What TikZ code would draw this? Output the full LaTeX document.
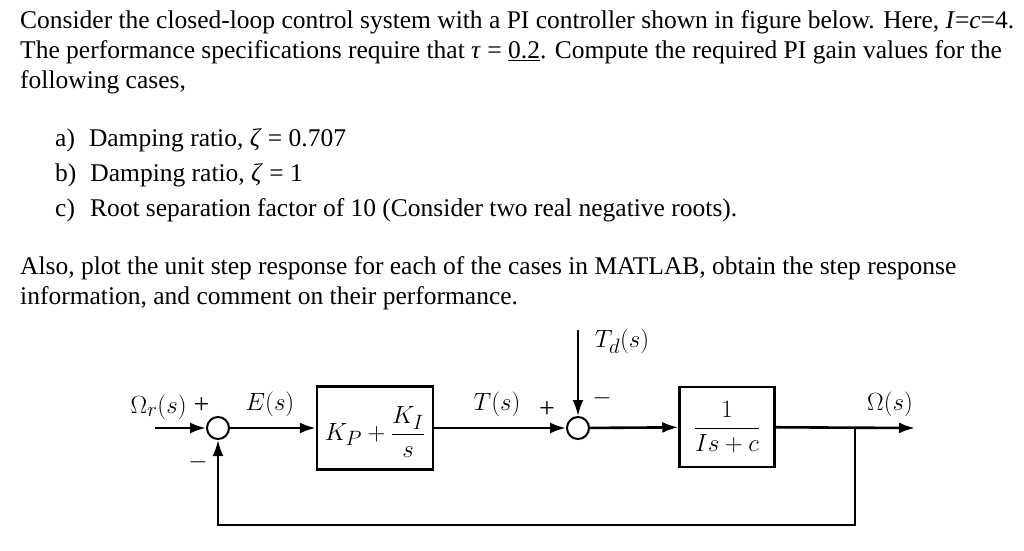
\documentclass[tikz,border=0pt]{standalone}
\usepackage{fontspec}
\usetikzlibrary{arrows.meta}
\setmainfont{Liberation Serif}
\begin{document}
\begin{tikzpicture}[x=1pt,y=-1pt,
  txt/.style={anchor=base west,inner sep=0,font=\fontsize{25.5}{30}\selectfont},
  lbl/.style={inner sep=0,font=\fontsize{28}{30}\selectfont},
  sumc/.style={circle,draw,line width=2pt,minimum size=22pt,inner sep=0},
  blk/.style={draw,line width=2.5pt,inner sep=0},
  ar/.style={line width=2.6pt,-{Latex[length=16pt,width=11pt]}}]
\useasboundingbox (0,0) rectangle (1024,550);
\node[txt] (l1) at (20,28) {Consider the closed-loop control system with a PI controller shown in figure below. Here, \textit{I}=\textit{c}=4.};
\node[txt] (l2) at (20,58) {The performance specifications require that \textit{τ} = \underline{0.2}. Compute the required PI gain values for the};
\node[txt] (l3) at (20,88) {following cases,};
\node[txt] (a) at (55,146) {a)\hspace{14pt}Damping ratio, \textit{ζ} = 0.707};
\node[txt] (b) at (55,181) {b)\hspace{14pt}Damping ratio, \textit{ζ} = 1};
\node[txt] (c) at (55,216) {c)\hspace{15pt}Root separation factor of 10 (Consider two real negative roots).};
\node[txt] (l4) at (20,274) {Also, plot the unit step response for each of the cases in MATLAB, obtain the step response};
\node[txt] (l5) at (20,304) {information, and comment on their performance.};
% diagram
\node[sumc] (s1) at (218,428) {};
\node[sumc] (s2) at (578,428) {};
\node[blk,minimum width=116pt,minimum height=83pt] (g1) at (375,428) {};
\node[lbl] at (375,432) {$\displaystyle K_P+\frac{K_I}{s}$};
\node[blk,minimum width=95pt,minimum height=80pt] (g2) at (727,427) {};
\node[lbl] at (727,427) {$\displaystyle\frac{1}{Is+c}$};
\coordinate (in) at (155,428);
\coordinate (out) at (915,428);
\coordinate (br) at (855,428);
\coordinate (td) at (578,330);
\draw[ar] (in) -- (s1);
\draw[ar] (s1) -- (g1);
\draw[ar] (g1) -- (s2);
\draw[ar] (s2) -- (g2);
\draw[ar] (g2) -- (out);
\draw[ar] (td) -- (s2);
\draw[ar] (br) -- (855,525) -- (218,525) -- (s1);
\node[lbl] at (170,407) {$\Omega_r(s)$ +};
\node[lbl] at (270,404) {$E(s)$};
\node[lbl] at (497,404) {$T(s)$};
\node[lbl] at (547,410) {+};
\node[lbl] at (602,398) {$-$};
\node[lbl] at (622,341) {$T_d(s)$};
\node[lbl] at (890,404) {$\Omega(s)$};
\node[lbl] at (198,462) {$-$};
\end{tikzpicture}
\end{document}
